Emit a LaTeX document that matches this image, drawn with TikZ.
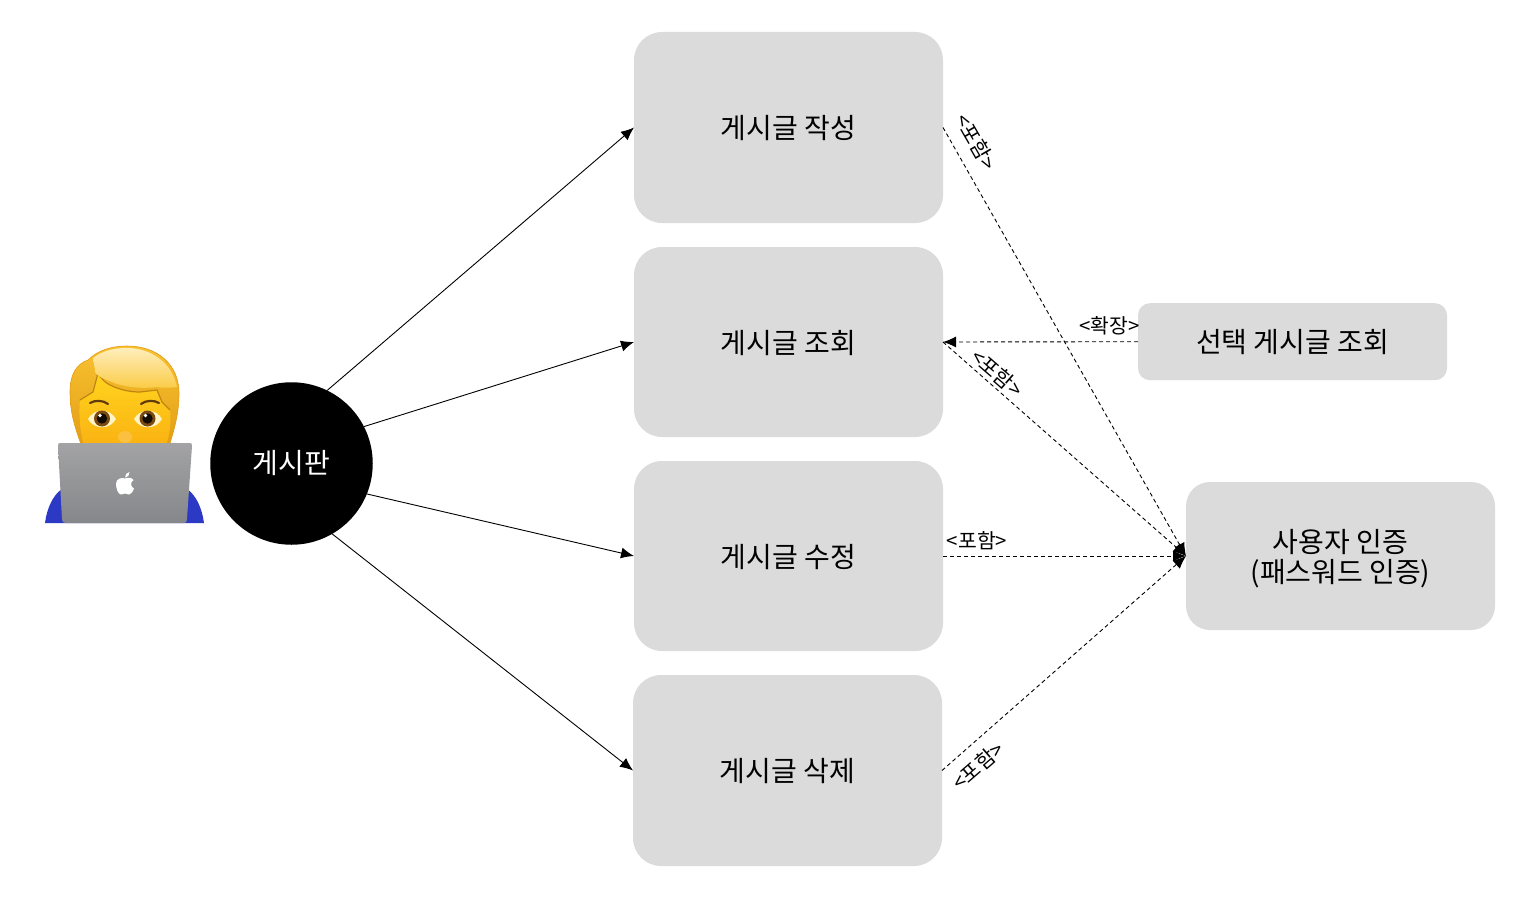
\documentclass[tikz,border=0pt]{standalone}
\usepackage{fontspec}
\setmainfont{Noto Sans CJK KR}
\usetikzlibrary{arrows.meta}
\definecolor{boxgray}{HTML}{DBDBDB}
\definecolor{hairA}{HTML}{FFEEBC}
\definecolor{hairM}{HTML}{FBCB45}
\definecolor{hairB}{HTML}{F8C232}
\definecolor{hairC}{HTML}{E29C14}
\definecolor{skinA}{HTML}{FFD41F}
\definecolor{skinB}{HTML}{FAB010}
\definecolor{lapA}{HTML}{A3A3A5}
\definecolor{lapB}{HTML}{85878A}
\definecolor{shirt}{HTML}{2B39C4}
\definecolor{iris}{HTML}{7A4A10}
\definecolor{eyew}{HTML}{FFF4C8}
\tikzset{
  bigbox/.style={fill=boxgray,rounded corners=28pt,minimum width=309pt,minimum height=190pt,inner sep=0pt,outer sep=0pt,font=\fontsize{28}{30}\selectfont,align=center,text height=25pt,text depth=2.8pt},
  smallbox/.style={fill=boxgray,minimum width=309pt,inner sep=0pt,outer sep=0pt,font=\fontsize{28}{30}\selectfont,align=center},
  hub/.style={circle,fill=black,text=white,minimum size=162.5pt,inner sep=0pt,outer sep=0pt,font=\fontsize{28}{30}\selectfont},
  solidarrow/.style={line width=0.9pt,-{Latex[length=13pt,width=11pt]}},
  dashedarrow/.style={line width=0.9pt,dash pattern=on 4pt off 3pt,-{Latex[length=13pt,width=11pt]}},
  lab/.style={inner sep=0pt,font=\fontsize{20.4}{22}\selectfont},
}
\begin{document}
\begin{tikzpicture}[x=1pt,y=-1pt]
\useasboundingbox (0,0) rectangle (1530,923);
% person emoji
\fill[shirt] (45,523) .. controls (47,508) and (53,495) .. (62,489) -- (187,489) .. controls (196,495) and (202,508) .. (204,523) -- cycle;
\path[top color=hairB,bottom color=hairC,draw=hairC,line width=0.6pt] (83,450) .. controls (76,430) and (70,415) .. (70,392) .. controls (70,375) and (76,364) .. (88,360) .. controls (98,350) and (112,346) .. (127,346) .. controls (158,346) and (179,365) .. (179,393) .. controls (179,415) and (174,430) .. (168,450) -- cycle;
\path[top color=skinA,bottom color=skinB] (80,400) -- (93,392) -- (98,373) .. controls (102,380) and (106,383) .. (110,385) .. controls (120,390) and (130,392) .. (140,392) -- (157,390) -- (162,402) -- (170,410) .. controls (172,425) and (168,440) .. (165,450) -- (85,450) .. controls (82,440) and (78,420) .. (80,400) -- cycle;
\draw[hairC!85!black,line width=1.2pt,line cap=round] (80,400) -- (93,392) -- (98,373) .. controls (102,380) and (106,383) .. (110,385) .. controls (120,390) and (130,392) .. (140,392) -- (157,390) -- (162,402) -- (170,410);
\path[top color=hairA,bottom color=hairM] (93,358) .. controls (105,349) and (118,348) .. (127,348) .. controls (150,348) and (172,362) .. (177,387) .. controls (170,388) and (163,388) .. (157,387) .. controls (140,389) and (128,387) .. (117,384) .. controls (107,380) and (94,376) .. (95,370) -- cycle;
\draw[iris!80!black,line width=2.2pt,line cap=round] (90,403) .. controls (95,400) and (103,400) .. (108,404) (141,404) .. controls (146,400) and (154,400) .. (159,403);
\fill[eyew] (88,419) .. controls (94,408) and (110,408) .. (116,419) .. controls (110,430) and (94,430) .. (88,419) -- cycle;
\fill[eyew] (134,419) .. controls (140,408) and (156,408) .. (162,419) .. controls (156,430) and (140,430) .. (134,419) -- cycle;
\fill[iris] (102,418.5) circle[radius=8];
\fill[iris] (147.5,418.5) circle[radius=8];
\fill[black!85!iris] (102,418.5) circle[radius=5.2];
\fill[black!85!iris] (147.5,418.5) circle[radius=5.2];
\fill[white] (100,415.5) circle[radius=1.8];
\fill[white] (145.5,415.5) circle[radius=1.8];
\fill[skinB!80!white] (125,437) ellipse[x radius=7,y radius=6];
\path[top color=lapA,bottom color=lapB] (60,443) -- (190,443) .. controls (191.5,443) and (192,444) .. (192,446) -- (187,519) .. controls (187,522) and (186,523) .. (184,523) -- (66,523) .. controls (63,523) and (62,522) .. (62,519) -- (58,446) .. controls (58,444) and (58.5,443) .. (60,443) -- cycle;
\fill[white] (125,478.5) .. controls (128,477) and (132,477.5) .. (133.5,480) .. controls (130,482) and (130.5,487) .. (134,488.5) .. controls (132.5,492) and (131,494.5) .. (129,494.5) .. controls (127,494.5) and (126.5,493.5) .. (125,493.5) .. controls (123.5,493.5) and (122.5,494.5) .. (121,494.5) .. controls (118,494.5) and (116,488) .. (116,484) .. controls (116,479) and (121,477) .. (125,478.5) -- cycle;
\fill[white] (125,477.5) .. controls (125,474.5) and (127,472.5) .. (129.5,472) .. controls (129.5,475) and (128,477.5) .. (125,477.5) -- cycle;
% nodes
\node[hub] (board) at (291.5,463.5) {게시판};
\node[bigbox,minimum height=191pt] (write) at (788.5,127.5) {게시글 작성};
\node[bigbox] (read) at (788.5,342) {게시글 조회};
\node[bigbox] (edit) at (788.5,556) {게시글 수정};
\node[bigbox,minimum height=191pt] (del) at (787.5,770.5) {게시글 삭제};
\node[smallbox,rounded corners=12pt,minimum height=77pt] (sel) at (1292.5,341.7) {선택 게시글 조회};
\node[smallbox,rounded corners=24pt,minimum height=148pt] (auth) at (1340.5,556) {\rule{0pt}{28pt}사용자 인증\\(패스워드 인증)};
% solid connectors
\draw[solidarrow] (board.64) -- (write.west);
\draw[solidarrow] (board.27) -- (read.west);
\draw[solidarrow] (board.-22) -- (edit.west);
\draw[solidarrow] (board.-60) -- (del.west);
% dashed connectors
\draw[dashedarrow] (write.east) -- (auth.west);
\draw[dashedarrow] (read.east) -- (auth.west);
\draw[dashedarrow] (edit.east) -- (auth.west);
\draw[dashedarrow] (del.east) -- (auth.west);
\draw[dashedarrow] (sel.west) -- (read.east);
% labels
\node[lab,rotate=-60] (l1) at (976,142) {<포함>};
\node[lab,rotate=-41] (l2) at (997,373) {<포함>};
\node[lab] (l3) at (977,541) {<포함>};
\node[lab,rotate=41] (l4) at (978,766) {<포함>};
\node[lab] (l5) at (1109.5,326) {<확장>};
\end{tikzpicture}
\end{document}
